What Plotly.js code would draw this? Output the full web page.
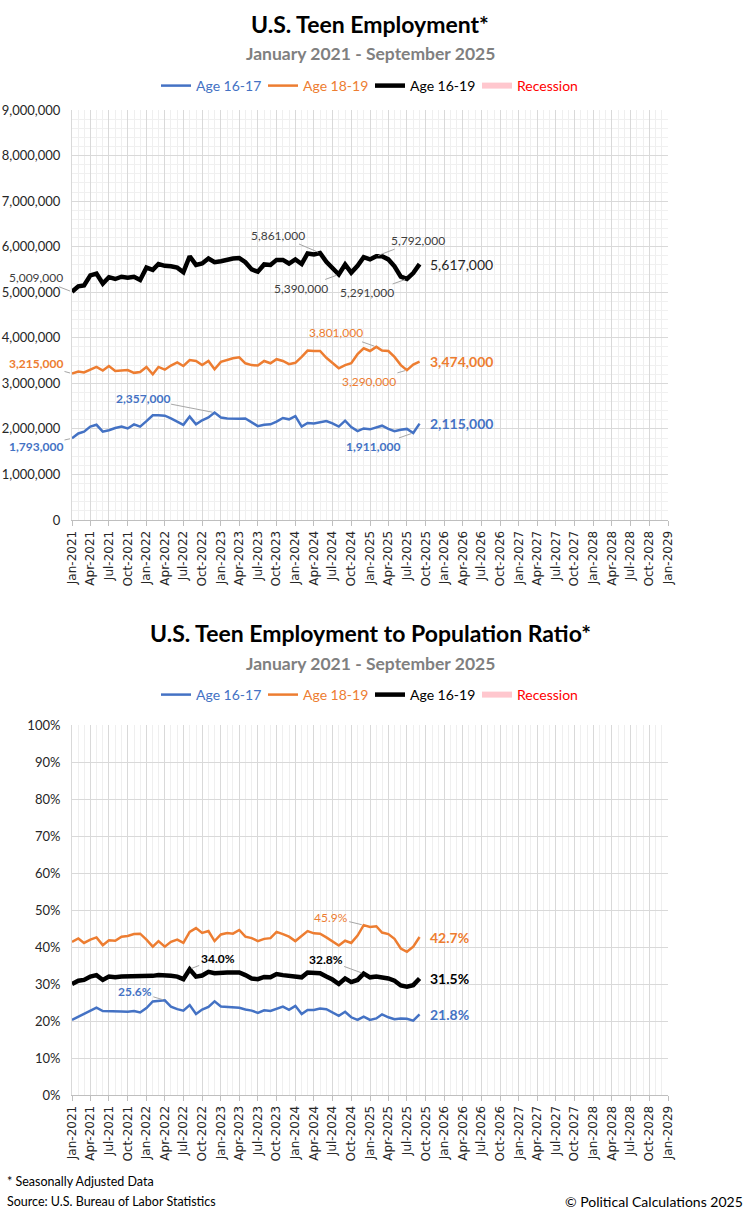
<!DOCTYPE html>
<html><head><meta charset="utf-8">
<script src="https://cdn.plot.ly/plotly-3.0.1.min.js"></script>
<style>html,body{margin:0;padding:0;background:#fff}#chart{width:750px;height:1216px}</style>
</head><body><div id="chart"></div>
<script>
// ---- categories (monthly, Jan 2021 - Sep 2025) ----
const months = [
 '2021-01','2021-02','2021-03','2021-04','2021-05','2021-06','2021-07','2021-08','2021-09','2021-10','2021-11','2021-12',
 '2022-01','2022-02','2022-03','2022-04','2022-05','2022-06','2022-07','2022-08','2022-09','2022-10','2022-11','2022-12',
 '2023-01','2023-02','2023-03','2023-04','2023-05','2023-06','2023-07','2023-08','2023-09','2023-10','2023-11','2023-12',
 '2024-01','2024-02','2024-03','2024-04','2024-05','2024-06','2024-07','2024-08','2024-09','2024-10','2024-11','2024-12',
 '2025-01','2025-02','2025-03','2025-04','2025-05','2025-06','2025-07','2025-08','2025-09'];

// ---- employment (thousands) ----
const emp16_17 = [1793,1900,1940,2050,2090,1940,1970,2020,2050,2010,2100,2050,
 2170,2300,2300,2290,2230,2150,2090,2270,2100,2190,2250,2357,
 2250,2230,2220,2220,2230,2140,2060,2090,2100,2160,2240,2210,
 2280,2050,2130,2120,2150,2170,2120,2050,2180,2040,1950,2010,
 1990,2030,2070,2000,1950,1980,2000,1911,2115];
const emp18_19 = [3215,3260,3240,3310,3360,3280,3380,3270,3280,3290,3230,3250,
 3360,3200,3360,3300,3390,3460,3380,3510,3490,3400,3490,3310,
 3470,3520,3550,3570,3440,3400,3390,3490,3440,3530,3490,3420,
 3450,3580,3720,3710,3710,3560,3450,3330,3400,3440,3640,3770,
 3710,3801,3720,3710,3580,3400,3290,3410,3474];
const emp16_19 = [5009,5130,5150,5370,5410,5190,5330,5290,5340,5320,5340,5270,
 5540,5490,5620,5580,5570,5540,5440,5790,5600,5630,5740,5660,
 5680,5720,5740,5750,5660,5500,5450,5610,5600,5710,5710,5630,
 5720,5620,5850,5830,5861,5670,5540,5390,5610,5430,5580,5770,
 5720,5792,5790,5720,5570,5340,5291,5420,5617];

// ---- employment-to-population ratio (%) ----
const ratio16_17 = [20.3,21.2,21.9,22.8,23.6,22.7,22.7,22.8,22.6,22.5,22.7,22.3,
 23.5,25.3,25.4,25.6,23.9,23.2,22.8,24.3,21.9,23.1,23.8,25.3,
 23.9,23.8,23.8,23.6,23.1,22.8,22.2,22.9,22.7,23.2,23.9,23.0,
 24.1,21.9,23.0,23.0,23.4,23.2,22.4,21.4,22.5,21.0,20.3,21.2,
 20.3,20.7,21.8,21.0,20.5,20.7,20.6,20.1,21.8];
const ratio18_19 = [41.4,42.3,41.1,42.0,42.6,40.5,41.8,41.7,42.8,43.0,43.5,43.6,
 42.0,40.1,41.6,40.1,41.4,42.0,41.1,44.1,45.1,43.8,44.3,41.6,
 43.4,43.8,43.6,44.6,42.8,42.4,41.6,42.2,42.4,44.1,43.5,42.8,
 41.6,43.0,44.3,43.7,43.6,42.6,41.4,40.4,41.7,41.1,43.1,45.9,
 45.4,45.6,43.9,43.5,42.2,39.6,38.7,40.1,42.7];
const ratio16_19 = [30.0,30.9,31.1,32.0,32.4,31.1,32.0,31.8,32.0,32.0,32.0,31.9,
 32.0,32.2,32.4,32.4,32.2,32.0,31.3,34.0,32.0,32.3,33.3,32.9,
 33.1,33.1,33.1,33.1,32.4,31.5,31.3,31.9,31.8,32.7,32.4,32.2,
 32.2,31.8,33.1,33.1,32.9,32.0,31.2,30.0,31.5,30.5,31.1,32.8,
 31.8,32.0,31.8,31.5,30.9,29.6,29.3,29.7,31.5];

// recession indicator: no recession months in the displayed period (all empty)
const recession = months.map(() => null);

const seriesNames = ['Age 16-17','Age 18-19','Age 16-19','Recession'];
const xRange = ['2021-01-01','2029-01-01'];

// ---- styling ----
const C_BLUE = '#4472C4', C_ORANGE = '#ED7D31', C_BLACK = '#000000', C_REC = '#FFC7CE', C_RECTXT = '#FF0000';
const FONT = 'Lato, "Open Sans", sans-serif';
const TICKFONT = '"DejaVu Sans", Verdana, sans-serif';

const H = 1216, T = 110, B = 121, PH = H - T - B;
const py = px => (H - B - px) / PH;

const emp = a => a.map(v => v * 1000);
const fmtK = v => (v * 1000).toLocaleString('en-US');
const fmtP = v => v.toFixed(1) + '%';

function lbl(color, txt){ return '<span style="color:' + color + '">' + txt + '</span>'; }

function mk(x, y, name, color, width, xa, ya, leg){
  return {x: x, y: y, type:'scatter', mode:'lines', name: lbl(color, name),
    line:{color: color, width: width, shape:'linear'}, xaxis: xa, yaxis: ya, legend: leg,
    hoverinfo:'skip', cliponaxis:false};
}
function rec(xa, ya, leg){
  return {x: months, y: recession, type:'scatter', mode:'lines', name: lbl(C_RECTXT, seriesNames[3]),
    line:{color: C_REC, width: 6}, xaxis: xa, yaxis: ya, legend: leg, hoverinfo:'skip', showlegend:true};
}

const data = [
  mk(months, emp(emp16_17), seriesNames[0], C_BLUE, 2.5, 'x', 'y', 'legend'),
  mk(months, emp(emp18_19), seriesNames[1], C_ORANGE, 2.5, 'x', 'y', 'legend'),
  mk(months, emp(emp16_19), seriesNames[2], C_BLACK, 4.5, 'x', 'y', 'legend'),
  rec('x', 'y', 'legend'),
  mk(months, ratio16_17, seriesNames[0], C_BLUE, 2.5, 'x2', 'y2', 'legend2'),
  mk(months, ratio18_19, seriesNames[1], C_ORANGE, 2.5, 'x2', 'y2', 'legend2'),
  mk(months, ratio16_19, seriesNames[2], C_BLACK, 4.5, 'x2', 'y2', 'legend2'),
  rec('x2', 'y2', 'legend2')
];

const last = months.length - 1;

function callout(xa, ya, i, arr, scale, fmt, color, ax, ay, bold){
  const v = arr[i];
  return {xref: xa, yref: ya, x: months[i], y: v * scale, text: bold ? '<b>' + fmt(v) + '</b>' : fmt(v),
    showarrow: true, arrowhead: 0, arrowwidth: 1, arrowcolor: '#a6a6a6', ax: ax, ay: ay, standoff: 2,
    font: {family: FONT, size: 12, color: color}};
}
function endLabel(xa, ya, arr, scale, fmt, color, bold, size){
  const v = arr[last];
  return {xref: xa, yref: ya, x: months[last], y: v * scale, text: bold ? '<b>' + fmt(v) + '</b>' : fmt(v),
    showarrow: false, xanchor: 'left', yanchor: 'middle', xshift: 8,
    font: {family: FONT, size: size, color: color}};
}
function paperText(txt, x, ypx, size, color, xanchor){
  return {xref:'paper', yref:'paper', x: x, y: py(ypx), text: txt, showarrow:false,
    xanchor: xanchor || 'center', yanchor:'middle', font:{family: FONT, size: size, color: color}};
}

const GRAY = '#404040';
const annotations = [
  // titles
  paperText('<b>U.S. Teen Employment*</b>', 0.5, 24, 23, '#000'),
  paperText('<b>January 2021 - September 2025</b>', 0.5, 53, 17.5, '#808080'),
  paperText('<b>U.S. Teen Employment to Population Ratio*</b>', 0.5, 633, 23, '#000'),
  paperText('<b>January 2021 - September 2025</b>', 0.5, 663, 17.5, '#808080'),
  // footer
  {xref:'paper', yref:'paper', x: -72/596, y: py(1181), text:'* Seasonally Adjusted Data', showarrow:false, xanchor:'left', yanchor:'middle', xshift:5, font:{family:FONT, size:12.5, color:'#000'}},
  {xref:'paper', yref:'paper', x: -72/596, y: py(1201), text:'Source: U.S. Bureau of Labor Statistics', showarrow:false, xanchor:'left', yanchor:'middle', xshift:5, font:{family:FONT, size:12.5, color:'#000'}},
  {xref:'paper', yref:'paper', x: 1 + 77/596, y: py(1201), text:'© Political Calculations 2025', showarrow:false, xanchor:'right', yanchor:'middle', font:{family:FONT, size:14, color:'#000'}},

  // top chart callouts
  callout('x','y', 0, emp16_19, 1000, fmtK, GRAY, -36, -14, false),
  callout('x','y', 0, emp18_19, 1000, fmtK, C_ORANGE, -36, -10, true),
  callout('x','y', 0, emp16_17, 1000, fmtK, C_BLUE, -36, 8, true),
  callout('x','y', 23, emp16_17, 1000, fmtK, C_BLUE, -72, -14, true),
  callout('x','y', 40, emp16_19, 1000, fmtK, GRAY, -42, -18, false),
  callout('x','y', 43, emp16_19, 1000, fmtK, GRAY, -38, 14, false),
  callout('x','y', 49, emp16_19, 1000, fmtK, GRAY, 42, -16, false),
  callout('x','y', 54, emp16_19, 1000, fmtK, GRAY, -40, 14, false),
  callout('x','y', 49, emp18_19, 1000, fmtK, C_ORANGE, -40, -14, false),
  callout('x','y', 54, emp18_19, 1000, fmtK, C_ORANGE, -38, 11, false),
  callout('x','y', 55, emp16_17, 1000, fmtK, C_BLUE, -40, 14, true),
  endLabel('x','y', emp16_19, 1000, fmtK, '#262626', false, 14),
  endLabel('x','y', emp18_19, 1000, fmtK, C_ORANGE, true, 14),
  endLabel('x','y', emp16_17, 1000, fmtK, C_BLUE, true, 14),

  // bottom chart callouts
  callout('x2','y2', 15, ratio16_17, 1, fmtP, C_BLUE, -30, -9, true),
  callout('x2','y2', 19, ratio16_19, 1, fmtP, '#000', 28, -11, true),
  callout('x2','y2', 47, ratio16_19, 1, fmtP, '#000', -38, -14, true),
  callout('x2','y2', 47, ratio18_19, 1, fmtP, C_ORANGE, -33, -8, false),
  endLabel('x2','y2', ratio18_19, 1, fmtP, C_ORANGE, true, 14),
  endLabel('x2','y2', ratio16_19, 1, fmtP, '#000', true, 14),
  endLabel('x2','y2', ratio16_17, 1, fmtP, C_BLUE, true, 14)
];

function xaxisCfg(anchor){
  return {type:'date', range: xRange, anchor: anchor, domain:[0,1],
    tickformat:'%b-%Y', dtick:'M3', tick0:'2021-01-01', tickangle:-90,
    ticks:'outside', ticklen:5, tickcolor:'#bfbfbf', showline:true, linecolor:'#bfbfbf', linewidth:1,
    showgrid:true, gridcolor:'#d9d9d9', gridwidth:1, zeroline:false,
    minor:{dtick:'M1', tick0:'2021-01-01', showgrid:true, gridcolor:'#efefef', gridwidth:1, ticks:''},
    tickfont:{family: TICKFONT, size:12, color:'#262626'}, fixedrange:true};
}

function legendCfg(ypx){
  return {orientation:'h', x:0.5, xanchor:'center', y: py(ypx), yanchor:'middle',
    font:{family: FONT, size:14, color:'#000'}, bgcolor:'rgba(0,0,0,0)', itemwidth:30,
    entrywidth:62, entrywidthmode:'pixels', tracegroupgap:0, traceorder:'normal'};
}

const layout = {
  width: 750, height: 1216,
  margin: {l:72, r:82, t:T, b:B, pad:0},
  paper_bgcolor:'#ffffff', plot_bgcolor:'#ffffff',
  showlegend: true,
  xaxis: xaxisCfg('y'),
  xaxis2: xaxisCfg('y2'),
  yaxis: {domain:[py(520), 1], range:[0, 9000000], dtick:1000000, tick0:0, tickformat:',d', anchor:'x',
    showgrid:true, gridcolor:'#d9d9d9', zeroline:false, showline:true, linecolor:'#d9d9d9',
    minor:{dtick:200000, showgrid:true, gridcolor:'#f0f0f0'},
    ticks:'', ticklabelstandoff:8, tickfont:{family: FONT, size:13, color:'#262626'}, fixedrange:true},
  yaxis2: {domain:[0, py(725)], range:[0, 100], dtick:10, tick0:0, ticksuffix:'%', anchor:'x2',
    showgrid:true, gridcolor:'#d9d9d9', zeroline:false, showline:true, linecolor:'#d9d9d9',
    ticks:'', ticklabelstandoff:8, tickfont:{family: FONT, size:13, color:'#262626'}, fixedrange:true},
  legend: legendCfg(86),
  legend2: legendCfg(695),
  annotations: annotations,
  hovermode: false
};

Plotly.newPlot('chart', data, layout, {displayModeBar:false, staticPlot:true, responsive:false});
</script></body></html>
